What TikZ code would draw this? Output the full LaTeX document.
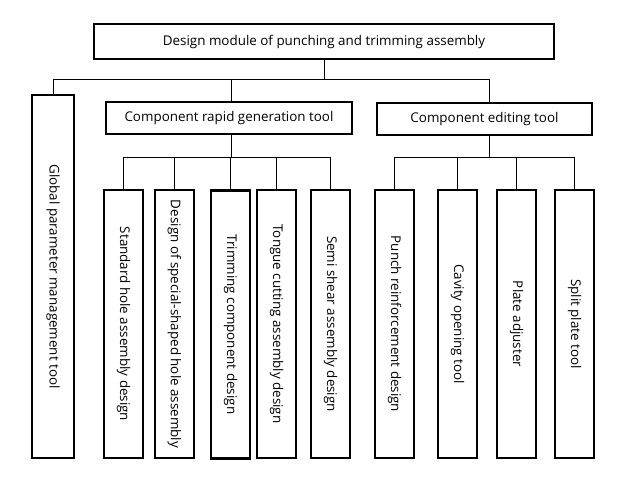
\documentclass[tikz,border=0pt]{standalone}
\usepackage{fontspec}
\setmainfont{Open Sans}
\usepackage{xcolor}
\usepackage{graphicx}
\definecolor{linecolor}{HTML}{000000}
\definecolor{textcolor}{HTML}{000000}
\usetikzlibrary{positioning,calc}
\newcommand{\vlabel}[1]{\rotatebox{-90}{#1}}
\tikzset{
    block/.style={
        rectangle,
        draw=linecolor,
        fill=white,
        text=textcolor,
        inner sep=0pt,
        align=center,
        line width=2.2pt,
        font=\fontsize{13.4}{16}\selectfont,
    },
    leaf/.style={
        block,
        minimum width=39pt,
        minimum height=268pt,
    },
    conn/.style={
        line width=1pt,
        linecolor,
    },
}

\begin{document}
\begin{tikzpicture}[x=1pt,y=-1pt]
        \useasboundingbox (0,0) rectangle (632,493);

        \node[block, minimum width=460pt, minimum height=35pt] (module) at (324,41.5) {Design module of punching and trimming assembly};

        \node[block, minimum width=42pt, minimum height=363pt] (global) at (53,276.5) {\vlabel{Global parameter management tool}};
        \node[block, minimum width=246pt, minimum height=32pt] (rapid) at (229,118) {Component rapid generation tool};
        \node[block, minimum width=215pt, minimum height=32pt] (editing) at (484.5,119) {Component editing tool};

        % generation tools
        \node[leaf] (stdhole) at (123.5,324) {\vlabel{Standard hole assembly design}};
        \node[leaf] (spchole) at (174.5,324) {\vlabel{Design of special-shaped hole assembly}};
        \node[leaf] (trim) at (230.5,324.5) {\vlabel{Trimming component design}};
        \node[leaf] (tongue) at (276.5,324) {\vlabel{Tongue cutting assembly design}};
        \node[leaf] (semi) at (330.5,324) {\vlabel{Semi shear assembly design}};

        % editing tools
        \node[leaf] (punch) at (394.7,324) {\vlabel{Punch reinforcement design}};
        \node[leaf] (cavity) at (457.7,324) {\vlabel{Cavity opening tool}};
        \node[leaf] (adjust) at (516.7,324) {\vlabel{Plate adjuster}};
        \node[leaf] (split) at (574.7,324) {\vlabel{Split plate tool}};

        \coordinate (bus1) at (0,79.3);
        \coordinate (bus2) at (0,157);

        \draw[conn] (module.south) -- (module.south |- bus1);
        \draw[conn] (global.north) -- (global.north |- bus1) -| ([xshift=5pt]editing.north);
        \draw[conn] ([xshift=2pt]rapid.north) -- ([xshift=2pt]rapid.north |- bus1);

        \draw[conn] ([xshift=2pt]rapid.south) -- ([xshift=2pt]rapid.south |- bus2);
        \draw[conn] (stdhole.north) -- (stdhole.north |- bus2) -| (semi.north);
        \foreach \n in {spchole,trim,tongue}
            \draw[conn] (\n.north) -- (\n.north |- bus2);

        \draw[conn] ([xshift=5pt]editing.south) -- ([xshift=5pt]editing.south |- bus2);
        \draw[conn] (punch.north) -- (punch.north |- bus2) -| (split.north);
        \foreach \n in {cavity,adjust}
            \draw[conn] (\n.north) -- (\n.north |- bus2);
    \end{tikzpicture}
\end{document}
